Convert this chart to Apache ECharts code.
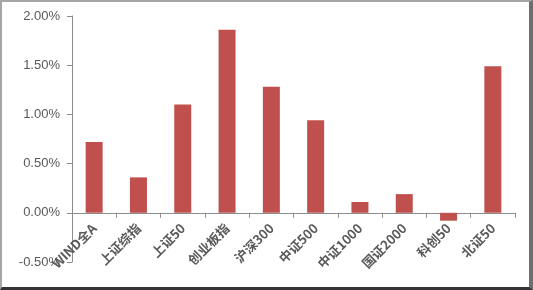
<!DOCTYPE html>
<html>
<head>
<meta charset="utf-8">
<script src="https://cdn.jsdelivr.net/npm/echarts@6/dist/echarts.min.js"></script>
<style>
html,body{margin:0;padding:0;background:#fff;}
#chart{position:absolute;left:0;top:0;width:533px;height:290px;}
#frame{position:absolute;left:0;top:0;width:533px;height:290px;box-sizing:border-box;
border-left:2px solid #a6a6a6;border-top:2px solid #a6a6a6;border-right:4px solid #6e6e6e;border-bottom:3px solid #333;pointer-events:none;}
</style>
</head>
<body>
<div id="chart"></div>
<div id="frame"></div>
<script>
const categories = ['WIND全A','上证综指','上证50','创业板指','沪深300','中证500','中证1000','国证2000','科创50','北证50'];
const values = [0.0072, 0.0036, 0.0110, 0.0186, 0.0128, 0.0094, 0.0011, 0.0019, -0.0008, 0.0149];
const yMin = -0.005, yMax = 0.02, yStep = 0.005;

const gridTop = 16, gridBottom = 28;
const gridH = 290 - gridTop - gridBottom;
const zeroOffset = -gridH * (0 - yMin) / (yMax - yMin);

const chart = echarts.init(document.getElementById('chart'));
chart.setOption({
  animation: false,
  grid: {left: 72, top: gridTop, right: 18, bottom: gridBottom, containLabel: false, outerBoundsMode: 'none'},
  xAxis: {
    type: 'category',
    data: categories,
    offset: zeroOffset,
    axisLine: {onZero: false, lineStyle: {color: '#8c8c8c', width: 1}},
    axisTick: {show: true, alignWithLabel: false, interval: 0, length: 5, lineStyle: {color: '#8c8c8c'}},
    axisLabel: {interval: 0, rotate: 45, margin: 13, color: '#595959', fontSize: 13, fontWeight: 'bold', fontFamily: 'Noto Sans CJK SC'}
  },
  yAxis: {
    type: 'value',
    min: yMin, max: yMax, interval: yStep,
    splitLine: {show: false},
    axisLine: {show: true, lineStyle: {color: '#8c8c8c', width: 1}},
    axisTick: {show: true, length: 5, lineStyle: {color: '#8c8c8c'}},
    axisLabel: {margin: 12, color: '#595959', fontSize: 13, fontFamily: 'Liberation Sans',
      formatter: v => (v * 100).toFixed(2) + '%'}
  },
  series: [{
    type: 'bar',
    data: values,
    barWidth: 17,
    itemStyle: {color: '#C0504D'}
  }]
});
</script>
</body>
</html>
